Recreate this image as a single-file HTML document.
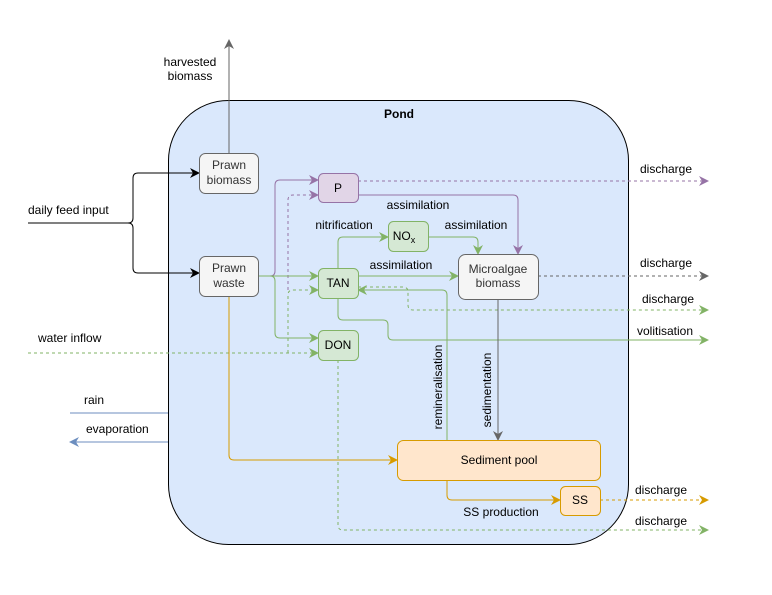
<!DOCTYPE html>
<html><head><meta charset="utf-8"><style>html,body{margin:0;padding:0;background:#fff}svg{display:block}text{font-family:"Liberation Sans",sans-serif;font-size:12px;fill:#000}</style></head><body>
<svg width="772" height="595" viewBox="0 0 772 595" xmlns="http://www.w3.org/2000/svg">
<defs>
<marker id="k" viewBox="0 0 10 10" refX="9" refY="5" markerWidth="10" markerHeight="10" orient="auto" markerUnits="userSpaceOnUse"><path d="M0,0L10,5L0,10L3,5z" fill="#000"/></marker>
<marker id="gy" viewBox="0 0 10 10" refX="9" refY="5" markerWidth="10" markerHeight="10" orient="auto" markerUnits="userSpaceOnUse"><path d="M0,0L10,5L0,10L3,5z" fill="#666"/></marker>
<marker id="g" viewBox="0 0 10 10" refX="9" refY="5" markerWidth="10" markerHeight="10" orient="auto" markerUnits="userSpaceOnUse"><path d="M0,0L10,5L0,10L3,5z" fill="#82b366"/></marker>
<marker id="p" viewBox="0 0 10 10" refX="9" refY="5" markerWidth="10" markerHeight="10" orient="auto" markerUnits="userSpaceOnUse"><path d="M0,0L10,5L0,10L3,5z" fill="#9673a6"/></marker>
<marker id="o" viewBox="0 0 10 10" refX="9" refY="5" markerWidth="10" markerHeight="10" orient="auto" markerUnits="userSpaceOnUse"><path d="M0,0L10,5L0,10L3,5z" fill="#d79b00"/></marker>
<marker id="b" viewBox="0 0 10 10" refX="9" refY="5" markerWidth="10" markerHeight="10" orient="auto" markerUnits="userSpaceOnUse"><path d="M0,0L10,5L0,10L3,5z" fill="#6c8ebf"/></marker>
</defs>
<rect x="168.5" y="100.5" width="460" height="444" rx="60" fill="#dae8fc" stroke="#000"/>
<text x="399" y="118" text-anchor="middle" style="font-weight:bold">Pond</text>
<g fill="none" stroke-width="1">
<path d="M229,153V40" stroke="#666" marker-end="url(#gy)"/>
<path d="M28,223H128Q133,223 133,218V178Q133,173 138,173H199" stroke="#000" marker-end="url(#k)"/>
<path d="M128,223Q133,223 133,228V268Q133,273 138,273H199" stroke="#000" marker-end="url(#k)"/>
<path d="M28,353H318" stroke="#82b366" stroke-dasharray="3,3" marker-end="url(#g)"/>
<path d="M288,353V295Q288,290 293,290H318" stroke="#82b366" stroke-dasharray="3,3" marker-end="url(#g)"/>
<path d="M288,290V200Q288,195 293,195H318" stroke="#9673a6" stroke-dasharray="3,3" marker-end="url(#p)"/>
<path d="M258,276H270Q275,276 275,271V185Q275,180 280,180H318" stroke="#9673a6" marker-end="url(#p)"/>
<path d="M258,276H318" stroke="#82b366" marker-end="url(#g)"/>
<path d="M270,276Q275,276 275,281V333Q275,338 280,338H318" stroke="#82b366" marker-end="url(#g)"/>
<path d="M358,181H708" stroke="#9673a6" stroke-dasharray="3,3" marker-end="url(#p)"/>
<path d="M358,195H513Q518,195 518,200V254" stroke="#9673a6" marker-end="url(#p)"/>
<path d="M338,268V242Q338,237 343,237H388" stroke="#82b366" marker-end="url(#g)"/>
<path d="M428,237H473Q478,237 478,242V254" stroke="#82b366" marker-end="url(#g)"/>
<path d="M358,276H458" stroke="#82b366" marker-end="url(#g)"/>
<path d="M538,276H708" stroke="#666" stroke-dasharray="3,3" marker-end="url(#gy)"/>
<path d="M358,287H403Q408,287 408,292V305Q408,310 413,310H708" stroke="#82b366" stroke-dasharray="3,3" marker-end="url(#g)"/>
<path d="M338,298V315Q338,320 343,320H383Q388,320 388,325V335Q388,340 393,340H708" stroke="#82b366" marker-end="url(#g)"/>
<path d="M447,440V295Q447,290 442,290H358" stroke="#82b366" marker-end="url(#g)"/>
<path d="M498,299V440" stroke="#666" marker-end="url(#gy)"/>
<path d="M229,296V455Q229,460 234,460H397" stroke="#d79b00" marker-end="url(#o)"/>
<path d="M447,480V495Q447,500 452,500H560" stroke="#d79b00" marker-end="url(#o)"/>
<path d="M600,500H708" stroke="#d79b00" stroke-dasharray="3,3" marker-end="url(#o)"/>
<path d="M338,360V525Q338,530 343,530H708" stroke="#82b366" stroke-dasharray="3,3" marker-end="url(#g)"/>
<path d="M70,413H168" stroke="#6c8ebf"/>
<path d="M168,442H70" stroke="#6c8ebf" marker-end="url(#b)"/>
</g>
<rect x="199.5" y="153.5" width="59" height="40" rx="6" fill="#f5f5f5" stroke="#666"/>
<text x="229" y="169" text-anchor="middle" style="fill:#333">Prawn</text><text x="229" y="184" text-anchor="middle" style="fill:#333">biomass</text>
<rect x="199.5" y="256.5" width="59" height="40" rx="6" fill="#f5f5f5" stroke="#666"/>
<text x="229" y="272" text-anchor="middle" style="fill:#333">Prawn</text><text x="229" y="287" text-anchor="middle" style="fill:#333">waste</text>
<rect x="318.5" y="173.5" width="40" height="29" rx="5" fill="#e1d5e7" stroke="#9673a6"/>
<text x="338" y="192" text-anchor="middle">P</text>
<rect x="388.5" y="221.5" width="40" height="30" rx="5" fill="#d5e8d4" stroke="#82b366"/>
<text x="404" y="240" text-anchor="middle">NO<tspan font-size="9" dy="3">x</tspan></text>
<rect x="318.5" y="268.5" width="40" height="30" rx="5" fill="#d5e8d4" stroke="#82b366"/>
<text x="338" y="287" text-anchor="middle">TAN</text>
<rect x="318.5" y="330.5" width="40" height="30" rx="5" fill="#d5e8d4" stroke="#82b366"/>
<text x="338" y="349" text-anchor="middle">DON</text>
<rect x="458.5" y="254.5" width="80" height="45" rx="7" fill="#f5f5f5" stroke="#666"/>
<text x="498" y="273" text-anchor="middle" style="fill:#333">Microalgae</text><text x="498" y="287" text-anchor="middle" style="fill:#333">biomass</text>
<rect x="397.5" y="440.5" width="203" height="40" rx="6" fill="#ffe6cc" stroke="#d79b00"/>
<text x="499" y="464" text-anchor="middle">Sediment pool</text>
<rect x="560.5" y="486.5" width="40" height="29" rx="5" fill="#ffe6cc" stroke="#d79b00"/>
<text x="580" y="504" text-anchor="middle">SS</text>
<text x="190" y="66" text-anchor="middle">harvested</text><text x="190" y="80" text-anchor="middle">biomass</text>
<text x="28" y="214">daily feed input</text>
<text x="38" y="342">water inflow</text>
<text x="84" y="404">rain</text>
<text x="86" y="433">evaporation</text>
<text x="418" y="209" text-anchor="middle">assimilation</text>
<text x="344" y="229" text-anchor="middle">nitrification</text>
<text x="476" y="229" text-anchor="middle">assimilation</text>
<text x="401" y="269" text-anchor="middle">assimilation</text>
<text x="666" y="173" text-anchor="middle">discharge</text>
<text x="666" y="267" text-anchor="middle">discharge</text>
<text x="668" y="303" text-anchor="middle">discharge</text>
<text x="665" y="335" text-anchor="middle">volitisation</text>
<text x="661" y="494" text-anchor="middle">discharge</text>
<text x="661" y="525" text-anchor="middle">discharge</text>
<text x="501" y="516" text-anchor="middle">SS production</text>
<text transform="translate(442,387) rotate(-90)" text-anchor="middle">remineralisation</text>
<text transform="translate(491,390) rotate(-90)" text-anchor="middle">sedimentation</text>
</svg>
</body></html>
